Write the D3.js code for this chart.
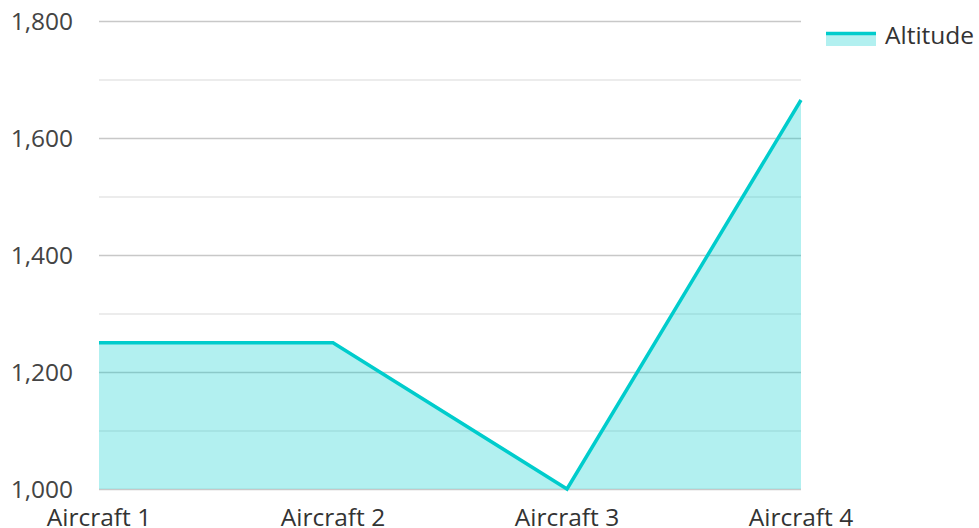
<!DOCTYPE html>
<html>
<head>
<meta charset="utf-8">
<script src="https://cdn.jsdelivr.net/npm/d3@7"></script>
<style>
  body { margin: 0; background: #fff; }
  text { font-family: "Open Sans", sans-serif; }
</style>
</head>
<body>
<script>
const categories = ["Aircraft 1", "Aircraft 2", "Aircraft 3", "Aircraft 4"];
const altitude = [1250, 1250, 1000, 1665];
const yTicks = [1000, 1200, 1400, 1600, 1800];
const yMinor = [1100, 1300, 1500, 1700];
const seriesName = "Altitude";

const W = 979, H = 528;
const plot = {left: 99, right: 801, top: 21, bottom: 489};
const color = "#00cccc";
const fontSize = 24.5;

const svg = d3.select("body").append("svg")
  .attr("width", W)
  .attr("height", H);

const x = d3.scalePoint().domain(categories).range([plot.left, plot.right]);
const y = d3.scaleLinear().domain([1000, 1800]).range([plot.bottom, plot.top]);

// minor grid
svg.append("g")
  .selectAll("line")
  .data(yMinor)
  .enter().append("line")
  .attr("x1", plot.left).attr("x2", plot.right)
  .attr("y1", d => y(d) + 0.5).attr("y2", d => y(d) + 0.5)
  .attr("stroke", "#e6e6e6")
  .attr("stroke-width", 1.5);

// major grid
svg.append("g")
  .selectAll("line")
  .data(yTicks)
  .enter().append("line")
  .attr("x1", plot.left).attr("x2", plot.right)
  .attr("y1", d => y(d) + 0.5).attr("y2", d => y(d) + 0.5)
  .attr("stroke", "#c8c8c8")
  .attr("stroke-width", 1.5);

// y labels
svg.append("g")
  .selectAll("text")
  .data(yTicks)
  .enter().append("text")
  .attr("x", 73)
  .attr("y", d => y(d) + 8.5)
  .attr("text-anchor", "end")
  .attr("font-size", fontSize)
  .attr("fill", "#444")
  .text(d => d3.format(",")(d));

// x labels
svg.append("g")
  .selectAll("text")
  .data(categories)
  .enter().append("text")
  .attr("x", d => x(d))
  .attr("y", 526)
  .attr("text-anchor", "middle")
  .attr("font-size", fontSize)
  .attr("fill", "#333")
  .text(d => d);

const pts = categories.map((c, i) => [c, altitude[i]]);

const area = d3.area()
  .x(d => x(d[0]))
  .y0(y(1000))
  .y1(d => y(d[1]));

const line = d3.line()
  .x(d => x(d[0]))
  .y(d => y(d[1]));

svg.append("path")
  .datum(pts)
  .attr("fill", color)
  .attr("fill-opacity", 0.3)
  .attr("d", area);

svg.append("path")
  .datum(pts)
  .attr("fill", "none")
  .attr("stroke", color)
  .attr("stroke-width", 3.5)
  .attr("stroke-linejoin", "miter")
  .attr("d", line);

// legend
const lg = svg.append("g").attr("transform", "translate(826,31)");
lg.append("rect")
  .attr("x", 0).attr("y", 1)
  .attr("width", 50).attr("height", 14)
  .attr("fill", color)
  .attr("fill-opacity", 0.3);
lg.append("line")
  .attr("x1", 0).attr("x2", 50)
  .attr("y1", 2.5).attr("y2", 2.5)
  .attr("stroke", color)
  .attr("stroke-width", 3.5);
lg.append("text")
  .attr("x", 59)
  .attr("y", 13)
  .attr("font-size", fontSize)
  .attr("fill", "#333")
  .text(seriesName);
</script>
</body>
</html>
